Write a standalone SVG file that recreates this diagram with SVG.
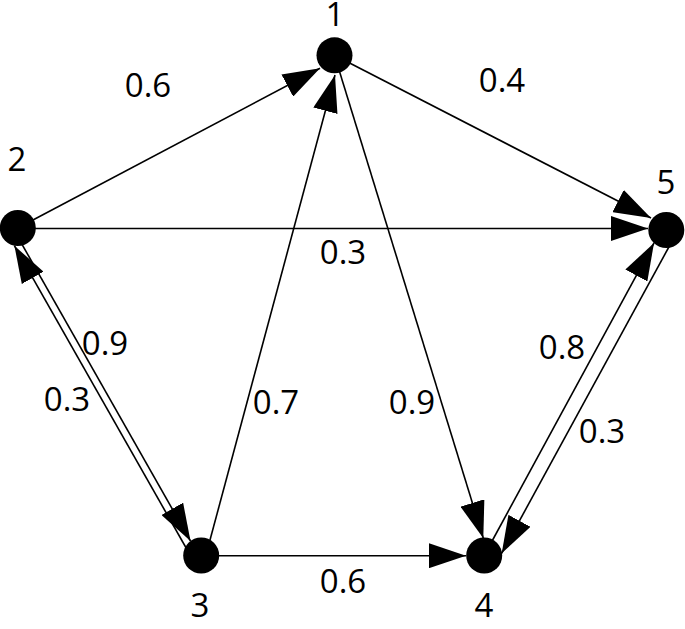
<svg xmlns="http://www.w3.org/2000/svg" width="685" height="629" viewBox="0 0 685 629">
<style>
.e{stroke:#000;stroke-width:1.6;fill:none;marker-end:url(#ah)}
.n{fill:#000}
text{font-family:"Open Sans","Liberation Sans",sans-serif;font-size:33px;fill:#000;text-anchor:middle}
</style>
<defs>
<marker id="ah" markerUnits="userSpaceOnUse" viewBox="0 0 37 25" markerWidth="37" markerHeight="25" refX="37" refY="12.5" orient="auto">
<path d="M0,0 L37,12.5 L0,25 Z" fill="#000"/>
</marker>
</defs>
<rect width="685" height="629" fill="#fff"/>
<g id="connectors">
<line class="e" x1="17.8" y1="228" x2="320" y2="68.3"/>
<line class="e" x1="334.5" y1="55.3" x2="651" y2="218"/>
<line class="e" x1="17.8" y1="228.5" x2="648" y2="228.5"/>
<line class="e" x1="205.7" y1="556" x2="335" y2="75"/>
<line class="e" x1="334.5" y1="55.3" x2="483.3" y2="538.3"/>
<line class="e" x1="201.2" y1="555.7" x2="466" y2="555.7"/>
<line class="e" x1="187.3" y1="550" x2="14.4" y2="245.7"/>
<line class="e" x1="18.4" y1="238" x2="190.5" y2="541"/>
<line class="e" x1="484.2" y1="555.5" x2="654" y2="243"/>
<line class="e" x1="672.7" y1="240" x2="501.7" y2="553.3"/>
</g>
<g id="node1"><circle class="n" cx="334.5" cy="55.3" r="18"/><text x="335" y="26">1</text></g>
<g id="node2"><circle class="n" cx="17.8" cy="228" r="18"/><text x="17" y="171">2</text></g>
<g id="node3"><circle class="n" cx="201.2" cy="555.5" r="18"/><text x="200" y="617">3</text></g>
<g id="node4"><circle class="n" cx="484.2" cy="555.5" r="18"/><text x="484" y="617">4</text></g>
<g id="node5"><circle class="n" cx="666.3" cy="230" r="18"/><text x="666" y="194">5</text></g>
<g id="labels">
<text x="148" y="97">0.6</text>
<text x="502" y="92">0.4</text>
<text x="343" y="264">0.3</text>
<text x="105" y="355">0.9</text>
<text x="67" y="411">0.3</text>
<text x="276" y="414">0.7</text>
<text x="412" y="414">0.9</text>
<text x="562" y="359">0.8</text>
<text x="602" y="443">0.3</text>
<text x="343" y="593">0.6</text>
</g>
</svg>
